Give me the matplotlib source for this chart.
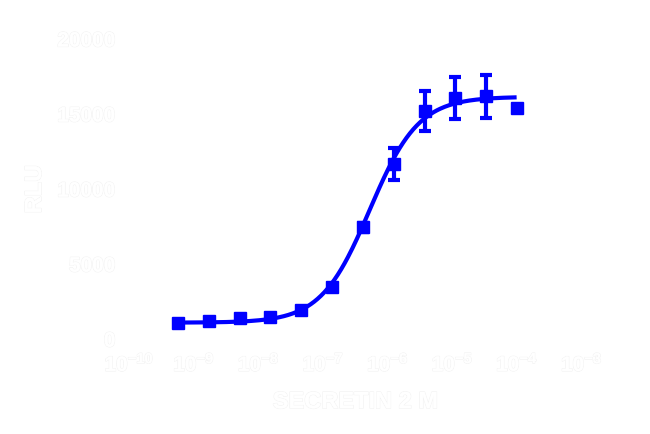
import numpy as np
import matplotlib
matplotlib.use("Agg")
import matplotlib.pyplot as plt
import matplotlib.patheffects as pe

# ---------------------------------------------------
# Data (3-fold dilution series)
# ---------------------------------------------------
conc = [5.645e-10, 1.694e-9, 5.081e-9, 1.524e-8, 4.572e-8, 1.372e-7,
        4.115e-7, 1.235e-6, 3.704e-6, 1.111e-5, 3.333e-5, 1.0e-4]
rlu = [1110, 1180, 1400, 1510, 1930, 3470,
       7470, 11670, 15200, 16070, 16200, 15400]
rlu_err = [0, 0, 0, 0, 0, 0,
           300, 1070, 1330, 1400, 1430, 0]

# 4PL fit parameters (estimated from the drawn curve)
fit_bottom = 1100
fit_top = 16150
fit_logec50 = -6.28
fit_hill = 1.15

x_ticks = [1e-10, 1e-9, 1e-8, 1e-7, 1e-6, 1e-5, 1e-4, 1e-3]
x_ticklabels = [r"$10^{-10}$", r"$10^{-9}$", r"$10^{-8}$", r"$10^{-7}$",
                r"$10^{-6}$", r"$10^{-5}$", r"$10^{-4}$", r"$10^{-3}$"]
y_ticks = [0, 5000, 10000, 15000, 20000]

plt.rcParams['font.family'] = ['Liberation Sans', 'DejaVu Sans']
plt.rcParams['mathtext.fontset'] = 'custom'
plt.rcParams['mathtext.rm'] = 'Liberation Sans:bold'
plt.rcParams['mathtext.it'] = 'Liberation Sans:bold'

blue = '#0000ff'
# white text with a very faint edge, as in the reference
outline = [pe.withStroke(linewidth=0.9, foreground='#f2f2f2'), pe.Normal()]

fig = plt.figure(figsize=(6.5, 4.35), dpi=100)
ax = fig.add_axes([0.199, 0.218, 0.696, 0.690])

# fitted curve across the data range
xs = np.logspace(np.log10(conc[0]), np.log10(conc[-1]) - 0.04, 300)
ys = fit_bottom + (fit_top - fit_bottom) / (1 + 10 ** ((fit_logec50 - np.log10(xs)) * fit_hill))
ax.plot(xs, ys, color=blue, lw=3, zorder=2)

ax.errorbar(conc, rlu, yerr=rlu_err, fmt='s', color=blue, ms=9,
            elinewidth=3, capsize=4.3, capthick=3, zorder=3)

ax.set_xscale('log')
ax.set_xlim(1e-10, 1e-3)
ax.set_ylim(0, 20000)
ax.set_xticks(x_ticks)
ax.set_xticklabels(x_ticklabels)
ax.minorticks_off()
ax.set_yticks(y_ticks)

for s in ax.spines.values():
    s.set_visible(False)
ax.tick_params(axis='both', colors='white', labelsize=15, length=0, pad=10)
for lbl in ax.get_xticklabels() + ax.get_yticklabels():
    lbl.set_fontweight('bold')
    lbl.set_path_effects(outline)

ax.set_xlabel('SECRETIN 2 M', fontsize=17, fontweight='bold', color='white',
              path_effects=outline, labelpad=11)
ax.set_ylabel('RLU', fontsize=17, fontweight='bold', color='white',
              path_effects=outline, labelpad=8)

fig.savefig('out.png', dpi=100, facecolor='white')
plt.close(fig)
